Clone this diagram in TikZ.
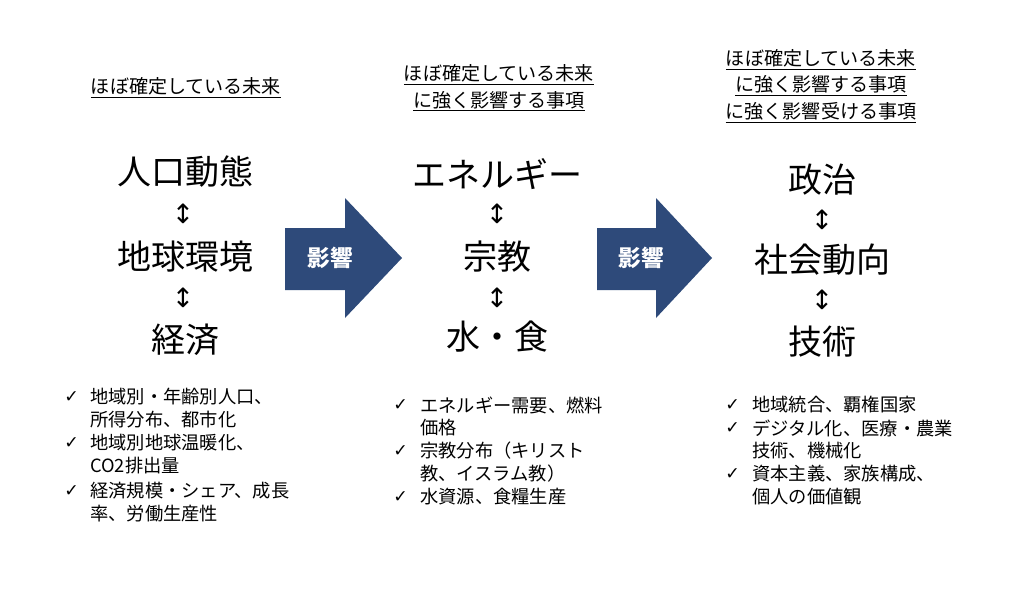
\documentclass[tikz,border=0pt]{standalone}
\usepackage{fontspec}
\setmainfont{Noto Sans CJK JP}
\newfontfamily\dejavu{DejaVu Sans}
\definecolor{arrowblue}{HTML}{2E4A7A}
\begin{document}
\begin{tikzpicture}[x=0.75pt,y=-0.75pt,
  hdr/.style={align=center,font=\fontsize{14.3}{19.8}\selectfont,inner sep=0},
  big/.style={font=\fontsize{25.5}{30}\selectfont,inner sep=0},
  ud/.style={font=\dejavu\fontsize{20}{22}\selectfont,inner sep=0},
  bl/.style={anchor=west,font=\fontsize{13.7}{16}\selectfont,inner sep=0},
  ck/.style={anchor=west,font=\dejavu\bfseries\fontsize{13}{15}\selectfont,inner sep=0},
  arr/.style={fill=arrowblue},
  arrtxt/.style={text=white,font=\bfseries\fontsize{17}{20}\selectfont,inner sep=0}]
\useasboundingbox (0,0) rectangle (1024,612);
\fill[white] (0,0) rectangle (1024,612);
% column 1
\node[hdr] (h1) at (186,88) {\underline{ほぼ確定している未来}};
\node[big] (a1) at (185,172) {人口動態};
\node[ud] (u1) at (183,214) {↕};
\node[big] (a2) at (185,257) {地球環境};
\node[ud] (u2) at (183,298) {↕};
\node[big] (a3) at (185,340) {経済};
% arrow 1
\fill[arr] (285,228) -- (345,228) -- (345,198) -- (402,258) -- (345,318) -- (345,290) -- (285,290) -- cycle;
\node[arrtxt] (t1) at (330,258) {影響};
% column 2
\node[hdr] (h2) at (499,88) {\underline{ほぼ確定している未来}\\\underline{に強く影響する事項}};
\node[big] (b1) at (497,174) {エネルギー};
\node[ud] (v1) at (497,214) {↕};
\node[big] (b2) at (497,257) {宗教};
\node[ud] (v2) at (497,298) {↕};
\node[big] (b3) at (497,337) {水・食};
% arrow 2
\fill[arr] (597,228) -- (656,228) -- (656,198) -- (712,258) -- (656,318) -- (656,290) -- (597,290) -- cycle;
\node[arrtxt] (t2) at (641,258) {影響};
% column 3
\node[hdr] (h3) at (821,86) {\underline{ほぼ確定している未来}\\\underline{に強く影響する事項}\\\underline{に強く影響受ける事項}};
\node[big] (c1) at (822,180) {政治};
\node[ud] (w1) at (822,220) {↕};
\node[big] (c2) at (822,260) {社会動向};
\node[ud] (w2) at (822,300) {↕};
\node[big] (c3) at (822,342) {技術};
% bullets col1
\node[ck] (k11) at (64,397) {✓};
\node[bl] (l11) at (90,397) {地域別・年齢別人口、};
\node[bl] (l12) at (90,420) {所得分布、都市化};
\node[ck] (k12) at (64,443) {✓};
\node[bl] (l13) at (90,443) {地域別地球温暖化、};
\node[bl] (l14) at (90,466) {CO2排出量};
\node[ck] (k13) at (64,491) {✓};
\node[bl] (l15) at (90,491) {経済規模・シェア、成長};
\node[bl] (l16) at (90,514) {率、労働生産性};
% bullets col2
\node[ck] (k21) at (393,405) {✓};
\node[bl] (l21) at (420,405) {エネルギー需要、燃料};
\node[bl] (l22) at (420,428) {価格};
\node[ck] (k22) at (393,451) {✓};
\node[bl] (l23) at (420,451) {宗教分布（キリスト};
\node[bl] (l24) at (420,474) {教、イスラム教）};
\node[ck] (k23) at (393,497) {✓};
\node[bl] (l25) at (420,497) {水資源、食糧生産};
% bullets col3
\node[ck] (k31) at (725,405) {✓};
\node[bl] (l31) at (752,405) {地域統合、覇権国家};
\node[ck] (k32) at (725,428) {✓};
\node[bl] (l32) at (752,428) {デジタル化、医療・農業};
\node[bl] (l33) at (752,451) {技術、機械化};
\node[ck] (k33) at (725,474) {✓};
\node[bl] (l34) at (752,474) {資本主義、家族構成、};
\node[bl] (l35) at (752,497) {個人の価値観};
\end{tikzpicture}
\end{document}
